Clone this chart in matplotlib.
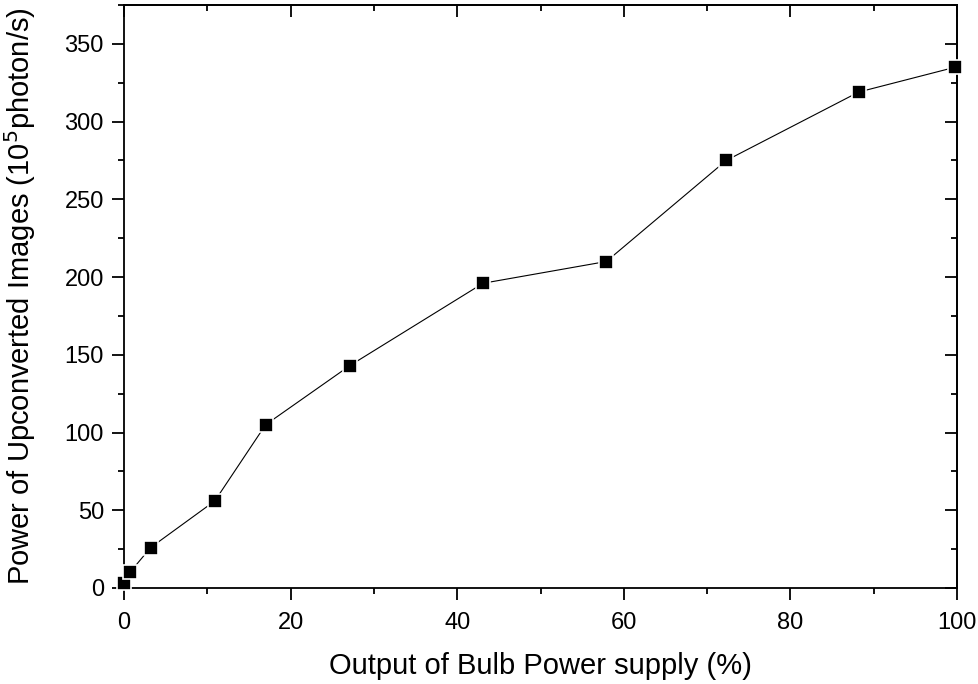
import matplotlib
matplotlib.use("Agg")
import matplotlib.pyplot as plt
from matplotlib.ticker import MultipleLocator

plt.rcParams['font.family'] = ['Liberation Sans', 'DejaVu Sans']

bulb_output = [0.0, 0.7, 3.2, 10.9, 17.0, 27.1, 43.1, 57.9, 72.3, 88.2, 99.8]
image_power = [3, 10, 26, 56, 105, 143, 196, 210, 275, 319, 335]

x_ticks = [0, 20, 40, 60, 80, 100]
y_ticks = [0, 50, 100, 150, 200, 250, 300, 350]

fig = plt.figure(figsize=(9.79, 6.84), dpi=100)
ax = fig.add_axes([0.1267, 0.1404, 0.8508, 0.8523])

ax.plot(
    bulb_output,
    image_power,
    color='black',
    linewidth=0.8,
    marker='s',
    markersize=10,
    markerfacecolor='black',
    markeredgecolor='white',
    markeredgewidth=1.2,
    clip_on=False,
    zorder=3
)

ax.set_xlim(0, 100)
ax.set_ylim(0, 375)
ax.set_xticks(x_ticks)
ax.set_yticks(y_ticks)
ax.xaxis.set_minor_locator(MultipleLocator(10))
ax.yaxis.set_minor_locator(MultipleLocator(25))

for spine in ax.spines.values():
    spine.set_linewidth(1.3)

ax.tick_params(which='major', direction='out', length=8.5, width=1.3,
               labelsize=17)
ax.tick_params(axis='x', which='major', pad=9)
ax.tick_params(axis='y', which='major', pad=6)
ax.tick_params(which='minor', direction='out', length=4.5, width=1.3)

top = ax.secondary_xaxis('top')
top.set_xticks(x_ticks)
top.xaxis.set_minor_locator(MultipleLocator(10))
top.tick_params(which='major', direction='in', length=8.5, width=1.3,
                labeltop=False)
top.tick_params(which='minor', direction='in', length=4.5, width=1.3)
top.spines['top'].set_linewidth(1.3)

right = ax.secondary_yaxis('right')
right.set_yticks(y_ticks)
right.yaxis.set_minor_locator(MultipleLocator(25))
right.tick_params(which='major', direction='in', length=8.5, width=1.3,
                  labelright=False)
right.tick_params(which='minor', direction='in', length=4.5, width=1.3)
right.spines['right'].set_linewidth(1.3)

ax.set_xlabel('Output of Bulb Power supply (%)', fontsize=21, labelpad=13)
ax.set_ylabel('Power of Upconverted Images (10$^5$photon/s)', fontsize=21,
              labelpad=19)

fig.savefig('out.png', dpi=100)
